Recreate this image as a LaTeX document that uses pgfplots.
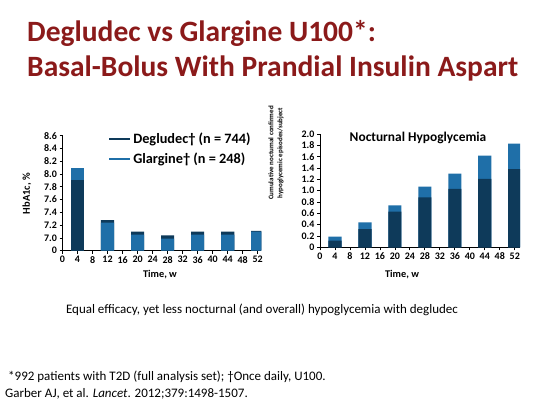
\documentclass[border=0pt]{standalone}
\usepackage{fontspec}
\setmainfont{Carlito}
\usepackage{pgfplots}
\pgfplotsset{compat=1.18}
\definecolor{dark}{HTML}{0E3A5A}
\definecolor{light}{HTML}{1F6FA8}
\definecolor{titlered}{HTML}{8B1A1A}
\pgfplotsset{
  mystyle/.style={
    scale only axis,
    axis lines=left,
    axis line style={-, line width=0.9pt},
    tick style={line width=0.8pt, black},
    tick align=outside,
    major tick length=3pt,
    xmin=0,
    xtick={0,4,...,52},
    tick label style={font=\fontsize{10}{11}\selectfont\bfseries},
    /pgf/number format/assume math mode=true,
    xticklabel style={yshift=1pt},
    yticklabel style={xshift=1pt},
    clip=true,
  },
  barsty/.style={ybar, bar width=3.5, bar shift=0pt, draw=none, fill=#1, forget plot},
}
\begin{document}
\begin{tikzpicture}[x=1pt,y=1pt]
\useasboundingbox (0,0) rectangle (540,405);
\fill[white] (0,0) rectangle (540,405);
\node[anchor=base west, inner sep=0pt, text=titlered, font=\fontsize{29.5}{32}\selectfont\bfseries] at (27,363) {Degludec vs Glargine U100*:};
\node[anchor=base west, inner sep=0pt, text=titlered, font=\fontsize{29.5}{32}\selectfont\bfseries] at (27,328) {Basal-Bolus With Prandial Insulin Aspart};

% Left chart: HbA1c
\begin{axis}[mystyle,
  at={(62.5pt,154.3pt)}, anchor=south west,
  width=199pt, height=115pt,
  xmax=53,
  ymin=6.8, ymax=8.6,
  ytick={6.8,7.0,7.2,7.4,7.6,7.8,8.0,8.2,8.4,8.6},
  yticklabels={0,7.0,7.2,7.4,7.6,7.8,8.0,8.2,8.4,8.6},
  legend style={draw=none, fill=none, at={(0.225,1.055)}, anchor=north west,
    font=\fontsize{14.3}{15}\selectfont\bfseries, row sep=4pt, inner sep=1pt},
  legend cell align=left,
  legend image code/.code={\draw[#1, line width=1.8pt] (0pt,0pt) -- (21pt,0pt);},
]
% taller bars behind
\addplot[barsty=light] coordinates {(4,8.09)};
\addplot[barsty=dark] coordinates {(12,7.28) (20,7.10) (28,7.04) (36,7.10) (44,7.10) (52,7.11)};
% shorter bars in front
\addplot[barsty=dark] coordinates {(4,7.90)};
\addplot[barsty=light] coordinates {(12,7.24) (20,7.05) (28,6.99) (36,7.05) (44,7.05) (52,7.10)};
\addlegendimage{dark}
\addlegendentry{Degludec† (n = 744)}
\addlegendimage{light}
\addlegendentry{Glargine† (n = 248)}
\end{axis}
\node[rotate=90, font=\fontsize{10.5}{11}\selectfont\bfseries] at (27,211.5) {HbA1c, \%};
\node[anchor=base, font=\fontsize{10.3}{11}\selectfont\bfseries] at (160,128) {Time, w};

% Right chart: nocturnal hypoglycemia
\begin{axis}[mystyle,
  at={(320pt,157.7pt)}, anchor=south west,
  width=200pt, height=113.3pt,
  xmax=53.4,
  ymin=0, ymax=2.0,
  ytick={0,0.2,0.4,0.6,0.8,1.0,1.2,1.4,1.6,1.8,2.0},
  yticklabels={0,0.2,0.4,0.6,0.8,1.0,1.2,1.4,1.6,1.8,2.0},
]
\addplot[barsty=light] coordinates {(4,0.19) (12,0.44) (20,0.74) (28,1.07) (36,1.30) (44,1.62) (52,1.83)};
\addplot[barsty=dark] coordinates {(4,0.12) (12,0.32) (20,0.63) (28,0.88) (36,1.03) (44,1.21) (52,1.38)};
\end{axis}
\node[anchor=base, font=\fontsize{13.4}{14}\selectfont\bfseries] at (418,264) {Nocturnal Hypoglycemia};
\node[rotate=90, align=center, font=\fontsize{7}{9}\selectfont\bfseries] at (276,252) {Cumulative nocturnal confirmed\\hypoglycemic episodes/subject};
\node[anchor=base, font=\fontsize{10.3}{11}\selectfont\bfseries] at (402,128) {Time, w};

% Bottom texts
\node[anchor=base, font=\fontsize{13}{15}\selectfont] at (262,92) {Equal efficacy, yet less nocturnal (and overall) hypoglycemia with degludec};
\node[anchor=base west, inner sep=0pt, font=\fontsize{13}{15}\selectfont] at (8,25) {*992 patients with T2D (full analysis set); †Once daily, U100.};
\node[anchor=base west, inner sep=0pt, font=\fontsize{13}{15}\selectfont] at (5,8) {Garber AJ, et al. \textit{Lancet}. 2012;379:1498-1507.};
\end{tikzpicture}
\end{document}
